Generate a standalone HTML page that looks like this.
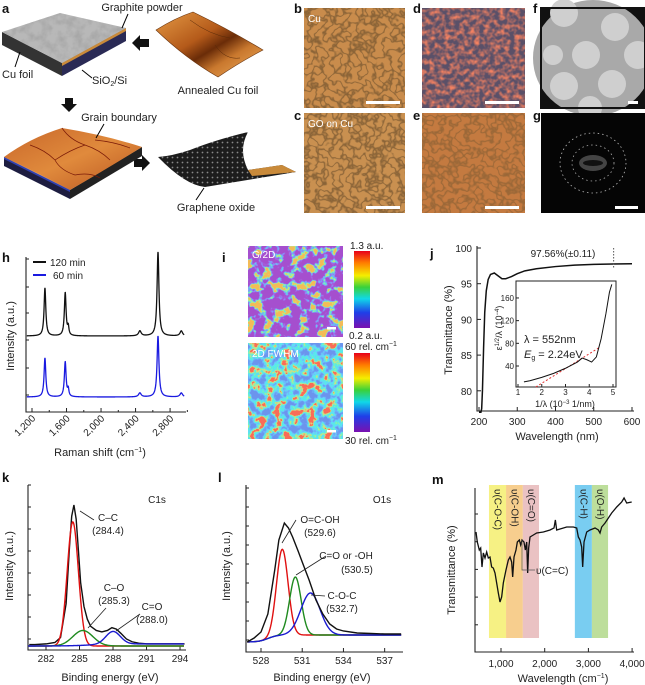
<!DOCTYPE html>
<html><head><meta charset="utf-8">
<style>
html,body{margin:0;padding:0;background:#fff;}
svg{display:block;font-family:"Liberation Sans",Arial,sans-serif;}
.tk{font-size:10px;fill:#222;}
.ttl{font-size:11px;fill:#222;}
.pl{font-size:13px;font-weight:bold;fill:#111;}
.ax{stroke:#222;stroke-width:1.1;fill:none;}
</style></head>
<body>
<svg id="fig" width="645" height="685" viewBox="0 0 645 685">
<defs>
  <filter id="gtex" x="0" y="0" width="1" height="1">
    <feTurbulence type="fractalNoise" baseFrequency="0.12" numOctaves="3" seed="4"/>
    <feColorMatrix type="matrix" values="0 0 0 0 0.35 0 0 0 0 0.35 0 0 0 0 0.35 -1.6 0 0 0 1.0"/>
  </filter>
  <filter id="crack" x="0" y="0" width="1" height="1">
    <feTurbulence type="fractalNoise" baseFrequency="0.12" numOctaves="2" seed="7"/>
    <feColorMatrix type="matrix" values="0 0 0 0 0.2 0 0 0 0 0.1 0 0 0 0 0.03 1 0 0 0 0"/>
    <feComponentTransfer><feFuncA type="table" tableValues="0 0 0 0 0 0.85 0 0 0 0 0"/></feComponentTransfer>
  </filter>
  <filter id="redtex" x="0" y="0" width="1" height="1">
    <feTurbulence type="fractalNoise" baseFrequency="0.2" numOctaves="2" seed="11"/>
    <feColorMatrix type="matrix" values="0 0 0 0 0.9 0 0 0 0 0.22 0 0 0 0 0.12 2.2 0 0 0 -0.8"/>
  </filter>
  <filter id="map1" x="0" y="0" width="1" height="1">
    <feTurbulence type="fractalNoise" baseFrequency="0.11" numOctaves="3" seed="2"/>
    <feColorMatrix type="matrix" values="1 0 0 0 0 1 0 0 0 0 1 0 0 0 0 0 0 0 0 1"/>
    <feComponentTransfer>
      <feFuncR type="linear" slope="3" intercept="-1"/><feFuncG type="linear" slope="3" intercept="-1"/><feFuncB type="linear" slope="3" intercept="-1"/>
    </feComponentTransfer>
    <feComponentTransfer>
      <feFuncR type="table" tableValues="0.38 0.38 0.38 0.38 0.38 0.38 0.3 0.15 0.15 0.5 0.9"/>
      <feFuncG type="table" tableValues="0.08 0.08 0.08 0.08 0.08 0.1 0.2 0.45 0.8 0.85 0.5"/>
      <feFuncB type="table" tableValues="0.62 0.62 0.62 0.62 0.62 0.68 0.9 0.95 0.6 0.2 0.1"/>
    </feComponentTransfer>
  </filter>
  <filter id="map2" x="0" y="0" width="1" height="1">
    <feTurbulence type="fractalNoise" baseFrequency="0.12" numOctaves="3" seed="9"/>
    <feColorMatrix type="matrix" values="1 0 0 0 0 1 0 0 0 0 1 0 0 0 0 0 0 0 0 1"/>
    <feComponentTransfer>
      <feFuncR type="linear" slope="3" intercept="-1"/><feFuncG type="linear" slope="3" intercept="-1"/><feFuncB type="linear" slope="3" intercept="-1"/>
    </feComponentTransfer>
    <feComponentTransfer>
      <feFuncR type="table" tableValues="0.15 0.15 0.15 0.15 0.1 0.1 0.3 0.7 0.95"/>
      <feFuncG type="table" tableValues="0.3 0.35 0.45 0.6 0.8 0.85 0.85 0.7 0.15"/>
      <feFuncB type="table" tableValues="0.85 0.9 0.95 0.95 0.9 0.7 0.4 0.2 0.1"/>
    </feComponentTransfer>
  </filter>
  <linearGradient id="cbar" x1="0" y1="0" x2="0" y2="1">
    <stop offset="0" stop-color="#e8001a"/><stop offset="0.15" stop-color="#ff7a00"/><stop offset="0.32" stop-color="#f5ee00"/>
    <stop offset="0.47" stop-color="#3ad13a"/><stop offset="0.62" stop-color="#10d8e8"/><stop offset="0.8" stop-color="#1f3fe8"/><stop offset="1" stop-color="#7a10b0"/>
  </linearGradient>
  <linearGradient id="cuGrad" x1="0" y1="0" x2="1" y2="1">
    <stop offset="0" stop-color="#e59a45"/><stop offset="0.4" stop-color="#b45a1a"/><stop offset="0.55" stop-color="#6a2c08"/><stop offset="0.7" stop-color="#c9782e"/><stop offset="1" stop-color="#f0b060"/>
  </linearGradient>
  <linearGradient id="cuTop" x1="0" y1="0" x2="1" y2="1">
    <stop offset="0" stop-color="#c8672a"/><stop offset="0.5" stop-color="#e08a3c"/><stop offset="1" stop-color="#b85420"/>
  </linearGradient>
  <pattern id="dots" width="5" height="5" patternUnits="userSpaceOnUse">
    <rect width="5" height="5" fill="#1c1c1c"/><circle cx="2.5" cy="2.5" r="0.9" fill="#888"/>
  </pattern>
  <clipPath id="slabClip"><polygon points="2,32 60,13 126,28 62,63"/></clipPath>
</defs>

<g>
  <text class="pl" x="2" y="13">a</text>
  <polygon points="2,32 62,63 62,76 2,45" fill="#333"/>
  <polygon points="62,63 126,28 126,41 62,76" fill="#2a2a55"/>
  <polygon points="62,63 126,28 126,31 62,66" fill="#c98a3a"/>
  <polygon points="2,32 60,13 126,28 62,63" fill="#b8b8b8"/>
  <rect x="0" y="10" width="130" height="55" filter="url(#gtex)" clip-path="url(#slabClip)"/>
  <text class="ttl" x="142" y="11" text-anchor="middle">Graphite powder</text>
  <line x1="128" y1="14" x2="122" y2="28" stroke="#000"/>
  <text class="ttl" x="2" y="78">Cu foil</text>
  <line x1="15" y1="67" x2="20" y2="52" stroke="#000"/>
  <text class="ttl" x="92" y="84">SiO<tspan font-size="7" dy="2">2</tspan><tspan dy="-2">/Si</tspan></text>
  <line x1="92" y1="78" x2="82" y2="70" stroke="#000"/>
  <path d="M156,30 Q175,18 193,12 Q230,30 263,50 Q240,62 218,77 Q185,58 156,30 Z" fill="url(#cuGrad)" stroke="#6a3510" stroke-width="0.6"/>
  <path d="M190,20 Q210,35 230,38 M215,45 Q225,60 240,58" stroke="#5a2a08" stroke-width="0.5" fill="none"/>
  <text class="ttl" x="218" y="94" text-anchor="middle">Annealed Cu foil</text>
  <polygon points="132,43 140,35 140,39 149,39 149,47 140,47 140,51" fill="#111"/>
  <polygon points="69,112 61,104 65,104 65,98 73,98 73,104 77,104" fill="#111"/>
  <polygon points="150,163 142,155 142,159 134,159 134,167 142,167 142,171" fill="#111"/>
  <polygon points="4,157 70,190 70,199 4,166" fill="#1d1d40"/>
  <polygon points="70,190 142,147 142,156 70,199" fill="#222"/>
  <polygon points="4,157 70,190 70,192 4,159" fill="#3040b0"/>
  <path d="M4,157 Q30,138 62,128 Q105,135 142,147 Q105,170 70,190 Q35,172 4,157 Z" fill="url(#cuTop)"/>
  <path d="M30,145 Q45,150 55,160 Q60,170 75,175 M62,128 Q70,140 85,145 Q100,150 110,160 M55,160 Q70,150 85,145 M75,175 Q90,172 100,178 M95,140 Q115,142 130,148" stroke="#7a1a08" stroke-width="0.7" fill="none"/>
  <text class="ttl" x="119" y="121" text-anchor="middle">Grain boundary</text>
  <line x1="104" y1="124" x2="96" y2="138" stroke="#000"/>
  <path d="M158,157 Q185,185 205,187 L296,172 L282,165 L248,170 Q238,150 248,132 Q215,140 190,150 Q172,156 158,157 Z" fill="url(#dots)"/>
  <path d="M248,170 L282,165 L296,172 L252,176 Z" fill="#c98a3a"/>
  <text class="ttl" x="216" y="211" text-anchor="middle">Graphene oxide</text>
  <line x1="196" y1="200" x2="204" y2="188" stroke="#000"/>
</g>

<g>
  <text class="pl" x="294" y="13">b</text>
  <rect x="304" y="8" width="101" height="100" fill="#c98c4c"/>
  <rect x="304" y="8" width="101" height="100" filter="url(#crack)"/>
  <text x="308" y="22" font-size="10" fill="#fff">Cu</text>
  <rect x="366" y="101" width="34" height="3" fill="#fff"/>
  <text class="pl" x="294" y="120">c</text>
  <rect x="304" y="113" width="101" height="100" fill="#c99050"/>
  <rect x="304" y="113" width="101" height="100" filter="url(#crack)"/>
  <text x="308" y="127" font-size="10" fill="#fff">GO on Cu</text>
  <rect x="366" y="206" width="34" height="3" fill="#fff"/>
  <text class="pl" x="413" y="13">d</text>
  <rect x="422" y="8" width="103" height="100" fill="#5a5068"/>
  <rect x="422" y="8" width="103" height="100" filter="url(#redtex)"/>
  <rect x="485" y="101" width="34" height="3" fill="#fff"/>
  <text class="pl" x="413" y="120">e</text>
  <rect x="422" y="113" width="103" height="100" fill="#c47a40"/>
  <rect x="422" y="113" width="103" height="100" filter="url(#crack)" opacity="0.7"/>
  <rect x="485" y="206" width="34" height="3" fill="#fff"/>
  <text class="pl" x="533" y="13">f</text>
  <g>
    <rect x="541" y="8" width="104" height="100" fill="#111"/>
    <ellipse cx="593" cy="58" rx="60" ry="58" fill="#a9a9a9"/>
    <circle cx="564" cy="13" r="14" fill="#cfcfcf"/><circle cx="615" cy="27" r="14" fill="#cfcfcf"/>
    <circle cx="586" cy="55" r="14" fill="#cfcfcf"/><circle cx="638" cy="55" r="14" fill="#cfcfcf"/>
    <circle cx="553" cy="55" r="10" fill="#cfcfcf"/><circle cx="564" cy="86" r="14" fill="#cfcfcf"/>
    <circle cx="612" cy="84" r="14" fill="#cfcfcf"/><circle cx="590" cy="108" r="12" fill="#cfcfcf"/>
    <rect x="541" y="8" width="104" height="100" fill="none" stroke="#111" stroke-width="2"/>
    <rect x="628" y="101" width="10" height="3" fill="#fff"/>
  </g>
  <text class="pl" x="533" y="120">g</text>
  <g>
    <rect x="541" y="113" width="104" height="100" fill="#050505"/>
    <ellipse cx="593" cy="163" rx="33" ry="30" fill="none" stroke="#bbb" stroke-width="0.8" stroke-dasharray="1.5 3"/>
    <ellipse cx="593" cy="163" rx="21" ry="18" fill="none" stroke="#aaa" stroke-width="0.8" stroke-dasharray="1.5 3"/>
    <ellipse cx="593" cy="163" rx="14" ry="8" fill="#444"/>
    <ellipse cx="593" cy="163" rx="10" ry="3" fill="#111"/>
    <rect x="615" y="206" width="23" height="3" fill="#fff"/>
  </g>
</g>

<g>
  <text class="pl" x="222" y="262">i</text>
  <rect x="248" y="246" width="95" height="91" fill="#5a1a9a"/>
  <rect x="248" y="246" width="95" height="91" filter="url(#map1)"/>
  <text x="252" y="258" font-size="10" fill="#fff">G/2D</text>
  <rect x="327" y="327" width="9" height="2.5" fill="#fff"/>
  <rect x="354" y="251" width="16" height="77" fill="url(#cbar)"/>
  <text class="tk" x="350" y="249">1.3 a.u.</text>
  <text class="tk" x="349" y="339">0.2 a.u.</text>
  <rect x="248" y="343" width="95" height="96" fill="#2a70d0"/>
  <rect x="248" y="343" width="95" height="96" filter="url(#map2)"/>
  <text x="252" y="357" font-size="10" fill="#fff">2D FWHM</text>
  <rect x="327" y="430" width="9" height="2.5" fill="#fff"/>
  <rect x="354" y="353" width="16" height="79" fill="url(#cbar)"/>
  <text class="tk" x="345" y="350">60 rel. cm<tspan font-size="7" dy="-4">−1</tspan></text>
  <text class="tk" x="345" y="444">30 rel. cm<tspan font-size="7" dy="-4">−1</tspan></text>
</g>

<g id="panelH"></g>
<g id="panelJ"></g>
<g id="panelK"></g>
<g id="panelL"></g>
<g id="panelM"></g>
</svg>

<script>
const hPeakPos = [1350, 1585, 1620, 2450, 2660, 2930];
const hPeakWidth = [12, 12, 9, 18, 13, 18];
const h120Heights = [48, 43, 8, 5, 84, 5];
const h60Heights = [39, 35, 7, 4, 61, 4];
const h120Offset = 76;
const h60Offset = 15;
const hTicks = [1200, 1600, 2000, 2400, 2800];
const hTickLabels = ["1,200", "1,600", "2,000", "2,400", "2,800"];
const jWave = [200, 205, 207, 209, 212, 215, 219, 224, 230, 240, 250, 260, 270, 285, 300, 320, 350, 400, 450, 500, 550, 600];
const jTrans = [77, 77, 77.5, 80, 86, 91, 94, 95.6, 96.3, 96.5, 96.1, 95.7, 95.7, 96.0, 96.4, 96.8, 97.1, 97.4, 97.6, 97.7, 97.75, 97.8];
const jTicksX = [200, 300, 400, 500, 600];
const jTicksY = [80, 85, 90, 95, 100];
const insetX = [1.25, 1.5, 2.0, 2.5, 3.0, 3.5, 3.7, 3.9, 4.1, 4.3, 4.5, 4.7, 4.85, 4.95];
const insetY = [12, 14, 20, 27, 36, 47, 54, 51, 47, 56, 88, 132, 170, 184];
const insetFitX = [1.75, 4.4];
const insetFitY = [3, 72];
const insetTicksX = [1, 2, 3, 4, 5];
const insetTicksY = [40, 80, 120, 160];
const kCenters = [284.4, 285.3, 288.0];
const kHeights = [88, 11, 9];
const kWidths = [0.5, 0.9, 0.65];
const kColors = ["#e01010", "#1f8a1f", "#1a1ad0"];
const kBlackE = [280.5, 281, 282, 282.8, 283.3, 283.8, 284.1, 284.3, 284.5, 284.7, 284.9, 285.1, 285.4, 285.7, 286, 286.5, 287, 287.5, 287.9, 288.3, 288.7, 289.2, 289.7, 290.3, 291, 292, 293, 294, 294.4];
const kBlackI = [1, 1, 1.5, 2.5, 6, 30, 70, 92, 100, 90, 68, 45, 28, 19, 14, 11, 10, 11, 13, 12, 9, 5, 3, 2, 1.5, 1.5, 1.5, 1.5, 1.5];
const kTicks = [282, 285, 288, 291, 294];
const lCenters = [529.55, 530.5, 531.6];
const lHeights = [86, 58, 42];
const lWidths = [0.42, 0.42, 0.7];
const lBase = 7;
const lColors = ["#e01010", "#1f8a1f", "#1a1ad0"];
const lBlackE = [527.0, 527.5, 528, 528.5, 529, 529.3, 529.7, 530, 530.3, 530.7, 531, 531.5, 532, 532.5, 533, 533.5, 534, 535, 536, 537, 538.2];
const lBlackI = [0, 4, 10, 28, 72, 102, 119, 114, 105, 91, 80, 62, 42, 28, 18, 13, 11, 9, 8.5, 8, 8];
const lTicks = [528, 531, 534, 537];
const mWave = [428,458,504,535,565,596,634,672,710,748,786,824,863,901,939,977,1015,1053,1114,1168,1206,1244,1267,1298,1343,1374,1420,1450,1481,1526,1557,1588,1610,1633,1664,1740,1816,1969,2122,2213,2244,2274,2351,2503,2656,2732,2770,2808,2846,2869,2900,2961,3037,3152,3228,3266,3304,3381,3533,3648,3762,3816,3877,3991];
const mTrans = [120,110,102,104,85,99,94,100,94,95,85,84,79,69,59,50,55,69,82,92,95,90,75,95,102,110,112,107,112,110,102,110,79,104,115,117,119,120,122,124,132,122,123,125,125,124,115,112,105,85,110,120,122,124,122,119,125,129,139,145,150,154,149,150];
const mBandStart = [725, 1115, 1500, 2690, 3080];
const mBandEnd = [1115, 1500, 1870, 3080, 3450];
const mBandLabels = ["υ(C-O-C)", "υ(C-OH)", "υ(C=O)", "υ(C-H)", "υ(O-H)"];
const mBandColors = ["#f4ef6e", "#f6c57a", "#e6b7b9", "#62c4ee", "#b2d889"];
const mTicks = [1000, 2000, 3000, 4000];
const mTickLabels = ["1,000", "2,000", "3,000", "4,000"];

const NS = 'http://www.w3.org/2000/svg';
function mk(tag, attrs, parent) {
  const e = document.createElementNS(NS, tag);
  for (const k in attrs) e.setAttribute(k, attrs[k]);
  parent.appendChild(e);
  return e;
}
function pathFrom(xs, ys) {
  return xs.map((x, i) => (i ? 'L' : 'M') + x.toFixed(2) + ',' + ys[i].toFixed(2)).join('');
}
function txt(parent, x, y, s, cls, anchor) {
  const t = mk('text', {x: x, y: y, class: cls, 'text-anchor': anchor || 'start'}, parent);
  t.textContent = s;
  return t;
}

(function () {
  const g = document.getElementById('panelH');
  const hx = v => 32 + (v - 1200) * 0.0863;
  const hy = I => 412 - I;
  const lab = txt(g, 2, 262, 'h', 'pl');
  
  
  const ax = mk('path', {d: 'M26,257 L26,412 L186,412', class: 'ax'}, g);
  
  
  [259, 287, 313, 340, 368, 395].forEach(y => mk('line', {x1: 26, x2: 29, y1: y, y2: y, stroke: '#222'}, g));
  hTicks.forEach((v, i) => {
    mk('line', {x1: hx(v), x2: hx(v), y1: 412, y2: 408, stroke: '#222'}, g);
    mk('line', {x1: hx(v + 200), x2: hx(v + 200), y1: 412, y2: 410, stroke: '#222'}, g);
    const t = txt(g, hx(v) + 4, 419, hTickLabels[i], 'tk', 'end');
    t.setAttribute('transform', 'rotate(-45 ' + (hx(v) + 4) + ' 419)');
    
    
  });
  const yt = txt(g, 14, 336, 'Intensity (a.u.)', 'ttl', 'middle');
  yt.setAttribute('transform', 'rotate(-90 14 336)');
  
  
  const xt = mk('text', {x: 100, y: 456, class: 'ttl', 'text-anchor': 'middle'}, g);
  xt.innerHTML = 'Raman shift (cm<tspan font-size="7" dy="-4">−1</tspan><tspan dy="4">)</tspan>';
  
  
  function spec(heights, off) {
    const xs = [], ys = [];
    for (let v = 1140; v <= 2965; v += 2) {
      let s = 0;
      for (let i = 0; i < hPeakPos.length; i++) {
        const d = (v - hPeakPos[i]) / hPeakWidth[i];
        s += heights[i] / (1 + d * d);
      }
      xs.push(hx(v)); ys.push(hy(off + s));
    }
    return pathFrom(xs, ys);
  }
  const p1 = mk('path', {d: spec(h120Heights, h120Offset), stroke: '#111', 'stroke-width': 1.3, fill: 'none'}, g);
  
  
  const p2 = mk('path', {d: spec(h60Heights, h60Offset), stroke: '#1a1ae0', 'stroke-width': 1.3, fill: 'none'}, g);
  
  
  const l1 = mk('line', {x1: 33, x2: 46, y1: 262, y2: 262, stroke: '#111', 'stroke-width': 2}, g);
  
  
  const lt1 = txt(g, 50, 266, '120 min', 'tk');
  
  
  const l2 = mk('line', {x1: 33, x2: 46, y1: 275, y2: 275, stroke: '#1a1ae0', 'stroke-width': 2}, g);
  
  
  const lt2 = txt(g, 53, 279, '60 min', 'tk');
  
  
})();

(function () {
  const g = document.getElementById('panelJ');
  const jx = v => 479 + (v - 200) * 0.3825;
  const jy = T => 248 + (100 - T) * 7.14;
  const lab = txt(g, 430, 258, 'j', 'pl');
  
  
  const ax = mk('path', {d: 'M477,246 L477,411 L634,411', class: 'ax'}, g);
  
  
  jTicksX.forEach(v => {
    mk('line', {x1: jx(v), x2: jx(v), y1: 411, y2: 407, stroke: '#222'}, g);
    const t = txt(g, jx(v), 425, String(v), 'tk', 'middle');
    
    
  });
  jTicksY.forEach(v => {
    mk('line', {x1: 477, x2: 481, y1: jy(v), y2: jy(v), stroke: '#222'}, g);
    const t = txt(g, 472, jy(v) + 4, String(v), 'tk', 'end');
    
    
  });
  const yt = txt(g, 452, 330, 'Transmittance (%)', 'ttl', 'middle');
  yt.setAttribute('transform', 'rotate(-90 452 330)');
  
  
  const xt = txt(g, 557, 440, 'Wavelength (nm)', 'ttl', 'middle');
  
  
  const cur = mk('path', {d: pathFrom(jWave.map(jx), jTrans.map(jy)), stroke: '#111', 'stroke-width': 1.5, fill: 'none'}, g);
  
  
  const dl = mk('line', {x1: jx(552), x2: jx(552), y1: jy(100), y2: jy(97.2), stroke: '#555', 'stroke-dasharray': '1.5 1.5'}, g);
  
  
  const ann = txt(g, 563, 257, '97.56%(±0.11)', 'tk', 'middle');
  
  
  const ix = v => 518 + (v - 1) * 23.75;
  const iy = u => 366 - (u - 40) * 0.567;
  const box = mk('rect', {x: 516, y: 281, width: 100, height: 106, fill: '#fff', stroke: '#222', 'stroke-width': 1}, g);
  
  
  insetTicksX.forEach(v => {
    mk('line', {x1: ix(v), x2: ix(v), y1: 387, y2: 384, stroke: '#222'}, g);
    const t = mk('text', {x: ix(v), y: 395, 'font-size': 8, fill: '#222', 'text-anchor': 'middle'}, g);
    t.textContent = v;
    
    
  });
  insetTicksY.forEach(v => {
    mk('line', {x1: 516, x2: 519, y1: iy(v), y2: iy(v), stroke: '#222'}, g);
    const t = mk('text', {x: 514, y: iy(v) + 3, 'font-size': 8, fill: '#222', 'text-anchor': 'end'}, g);
    t.textContent = v;
    
    
  });
  const fit = mk('path', {d: pathFrom(insetFitX.map(ix), insetFitY.map(iy)), stroke: '#e03030', 'stroke-dasharray': '2 2', fill: 'none'}, g);
  
  
  const ic = mk('path', {d: pathFrom(insetX.map(ix), insetY.map(iy)), stroke: '#111', 'stroke-width': 1, fill: 'none'}, g);
  
  
  const a1 = mk('text', {x: 524, y: 343, class: 'ttl'}, g);
  a1.textContent = 'λ = 552nm';
  
  
  const a2 = mk('text', {x: 524, y: 358, class: 'ttl'}, g);
  a2.innerHTML = '<tspan font-style="italic">E</tspan><tspan font-size="7" dy="2">g</tspan><tspan dy="-2"> = 2.24eV</tspan>';
  
  
  const iyt = mk('text', {x: 502, y: 328, 'font-size': 9, fill: '#222', 'text-anchor': 'middle', transform: 'rotate(-90 502 328)'}, g);
  iyt.innerHTML = 'ε<tspan font-size="6" dy="-3">1/2</tspan><tspan dy="3">/λ (10</tspan><tspan font-size="6" dy="-3">−4</tspan><tspan dy="3">)</tspan>';
  
  
  const ixt = mk('text', {x: 565, y: 407, 'font-size': 9, fill: '#222', 'text-anchor': 'middle'}, g);
  ixt.innerHTML = '1/λ (10<tspan font-size="6" dy="-3">−3</tspan><tspan dy="3"> 1/nm)</tspan>';
  
  
})();

(function () {
  const g = document.getElementById('panelK');
  const kx = v => 46 + (v - 282) * 11.17;
  const ky = I => 646 - I * 1.41;
  const lab = txt(g, 2, 482, 'k', 'pl');
  
  
  const ax = mk('path', {d: 'M28,485 L28,650 L186,650', class: 'ax'}, g);
  
  
  for (let y = 485; y < 650; y += 22) mk('line', {x1: 28, x2: 31, y1: y, y2: y, stroke: '#222'}, g);
  kTicks.forEach(v => {
    mk('line', {x1: kx(v), x2: kx(v), y1: 650, y2: 646, stroke: '#222'}, g);
    const t = txt(g, kx(v), 662, String(v), 'tk', 'middle');
    
    
  });
  const yt = txt(g, 13, 566, 'Intensity (a.u.)', 'ttl', 'middle');
  yt.setAttribute('transform', 'rotate(-90 13 566)');
  
  
  const xt = txt(g, 110, 681, 'Binding energy (eV)', 'ttl', 'middle');
  
  
  const bk = mk('path', {d: pathFrom(kBlackE.map(kx), kBlackI.map(ky)), stroke: '#111', 'stroke-width': 1.4, fill: 'none'}, g);
  
  
  kCenters.forEach((c, i) => {
    const xs = [], ys = [];
    for (let v = 280.4; v <= 294.4; v += 0.05) {
      const d = (v - c) / kWidths[i];
      const base = i === 2 ? 1.5 / (1 + Math.exp(-(v - 286))) : 0;
      xs.push(kx(v)); ys.push(ky(base + kHeights[i] * Math.exp(-0.5 * d * d)));
    }
    const p = mk('path', {d: pathFrom(xs, ys), stroke: kColors[i], 'stroke-width': 1.4, fill: 'none'}, g);
    
    
  });
  const labels = [['C1s', 157, 503], ['C–C', 108, 521], ['(284.4)', 108, 534], ['C–O', 114, 591], ['(285.3)', 114, 604], ['C=O', 152, 610], ['(288.0)', 152, 623]];
  labels.forEach(a => {
    const t = txt(g, a[1], a[2], a[0], 'tk', 'middle');
    
    
  });
  mk('path', {d: 'M94,520 L80,511 M106,608 L88,628 M140,614 L116,631', stroke: '#222', 'stroke-width': 0.8, fill: 'none'}, g);
})();

(function () {
  const g = document.getElementById('panelL');
  const lx = v => 261 + (v - 528) * 13.74;
  const ly = I => 642 - I;
  const lab = txt(g, 218, 482, 'l', 'pl');
  
  
  const ax = mk('path', {d: 'M246,485 L246,652 L403,652', class: 'ax'}, g);
  
  
  for (let y = 488; y < 650; y += 19) mk('line', {x1: 246, x2: 249, y1: y, y2: y, stroke: '#222'}, g);
  lTicks.forEach(v => {
    mk('line', {x1: lx(v), x2: lx(v), y1: 652, y2: 648, stroke: '#222'}, g);
    const t = txt(g, lx(v), 664, String(v), 'tk', 'middle');
    
    
  });
  const yt = txt(g, 230, 566, 'Intensity (a.u.)', 'ttl', 'middle');
  yt.setAttribute('transform', 'rotate(-90 230 566)');
  
  
  const xt = txt(g, 322, 681, 'Binding energy (eV)', 'ttl', 'middle');
  
  
  lCenters.forEach((c, i) => {
    const xs = [], ys = [];
    for (let v = 527.0; v <= 538.2; v += 0.05) {
      const d = (v - c) / lWidths[i];
      const ramp = lBase / (1 + Math.exp(-(v - 528.5) * 3));
      xs.push(lx(v)); ys.push(ly(ramp + lHeights[i] * Math.exp(-0.5 * d * d)));
    }
    const p = mk('path', {d: pathFrom(xs, ys), stroke: lColors[i], 'stroke-width': 1.4, fill: 'none'}, g);
    
    
  });
  const bk = mk('path', {d: pathFrom(lBlackE.map(lx), lBlackI.map(ly)), stroke: '#111', 'stroke-width': 1.4, fill: 'none'}, g);
  
  
  const labels = [['O1s', 382, 503], ['O=C-OH', 320, 523], ['(529.6)', 320, 536], ['C=O or -OH', 346, 559], ['(530.5)', 357, 573], ['C-O-C', 342, 599], ['(532.7)', 342, 612]];
  labels.forEach(a => {
    const t = txt(g, a[1], a[2], a[0], 'tk', 'middle');
    
    
  });
  mk('path', {d: 'M296,520 L282,543 M326,556 L296,575 M325,596 L311,595', stroke: '#222', 'stroke-width': 0.8, fill: 'none'}, g);
})();

(function () {
  const g = document.getElementById('panelM');
  const mx = v => 501 + (v - 1000) * 0.0437;
  const my = T => 652 - T;
  const lab = txt(g, 432, 484, 'm', 'pl');
  
  
  mBandStart.forEach((s, i) => {
    const r = mk('rect', {x: mx(s), y: 485, width: mx(mBandEnd[i]) - mx(s), height: 153, fill: mBandColors[i], opacity: 0.85}, g);
    
    
    const cx = (mx(s) + mx(mBandEnd[i])) / 2 - 3;
    const t = mk('text', {x: cx, y: 489, 'font-size': 10, fill: '#222', transform: 'rotate(90 ' + cx + ' 489)'}, g);
    t.textContent = mBandLabels[i];
    
    
  });
  const ax = mk('path', {d: 'M475,488 L475,652 L634,652', class: 'ax'}, g);
  
  
  for (let y = 514; y < 650; y += 27.7) mk('line', {x1: 475, x2: 478, y1: y, y2: y, stroke: '#222'}, g);
  mTicks.forEach((v, i) => {
    mk('line', {x1: mx(v), x2: mx(v), y1: 652, y2: 648, stroke: '#222'}, g);
    const t = txt(g, mx(v), 667, mTickLabels[i], 'tk', 'middle');
    
    
  });
  const yt = txt(g, 455, 570, 'Transmittance (%)', 'ttl', 'middle');
  yt.setAttribute('transform', 'rotate(-90 455 570)');
  
  
  const xt = mk('text', {x: 563, y: 682, class: 'ttl', 'text-anchor': 'middle'}, g);
  xt.innerHTML = 'Wavelength (cm<tspan font-size="7" dy="-4">−1</tspan><tspan dy="4">)</tspan>';
  
  
  const cur = mk('path', {d: pathFrom(mWave.map(mx), mTrans.map(my)), stroke: '#111', 'stroke-width': 1.3, fill: 'none'}, g);
  
  
  mk('path', {d: 'M522,540 L522,570 L535,570', stroke: '#555', 'stroke-width': 0.7, fill: 'none'}, g);
  const cc = txt(g, 536, 574, 'υ(C=C)', 'tk');
  
  
})();
</script>
</body></html>
